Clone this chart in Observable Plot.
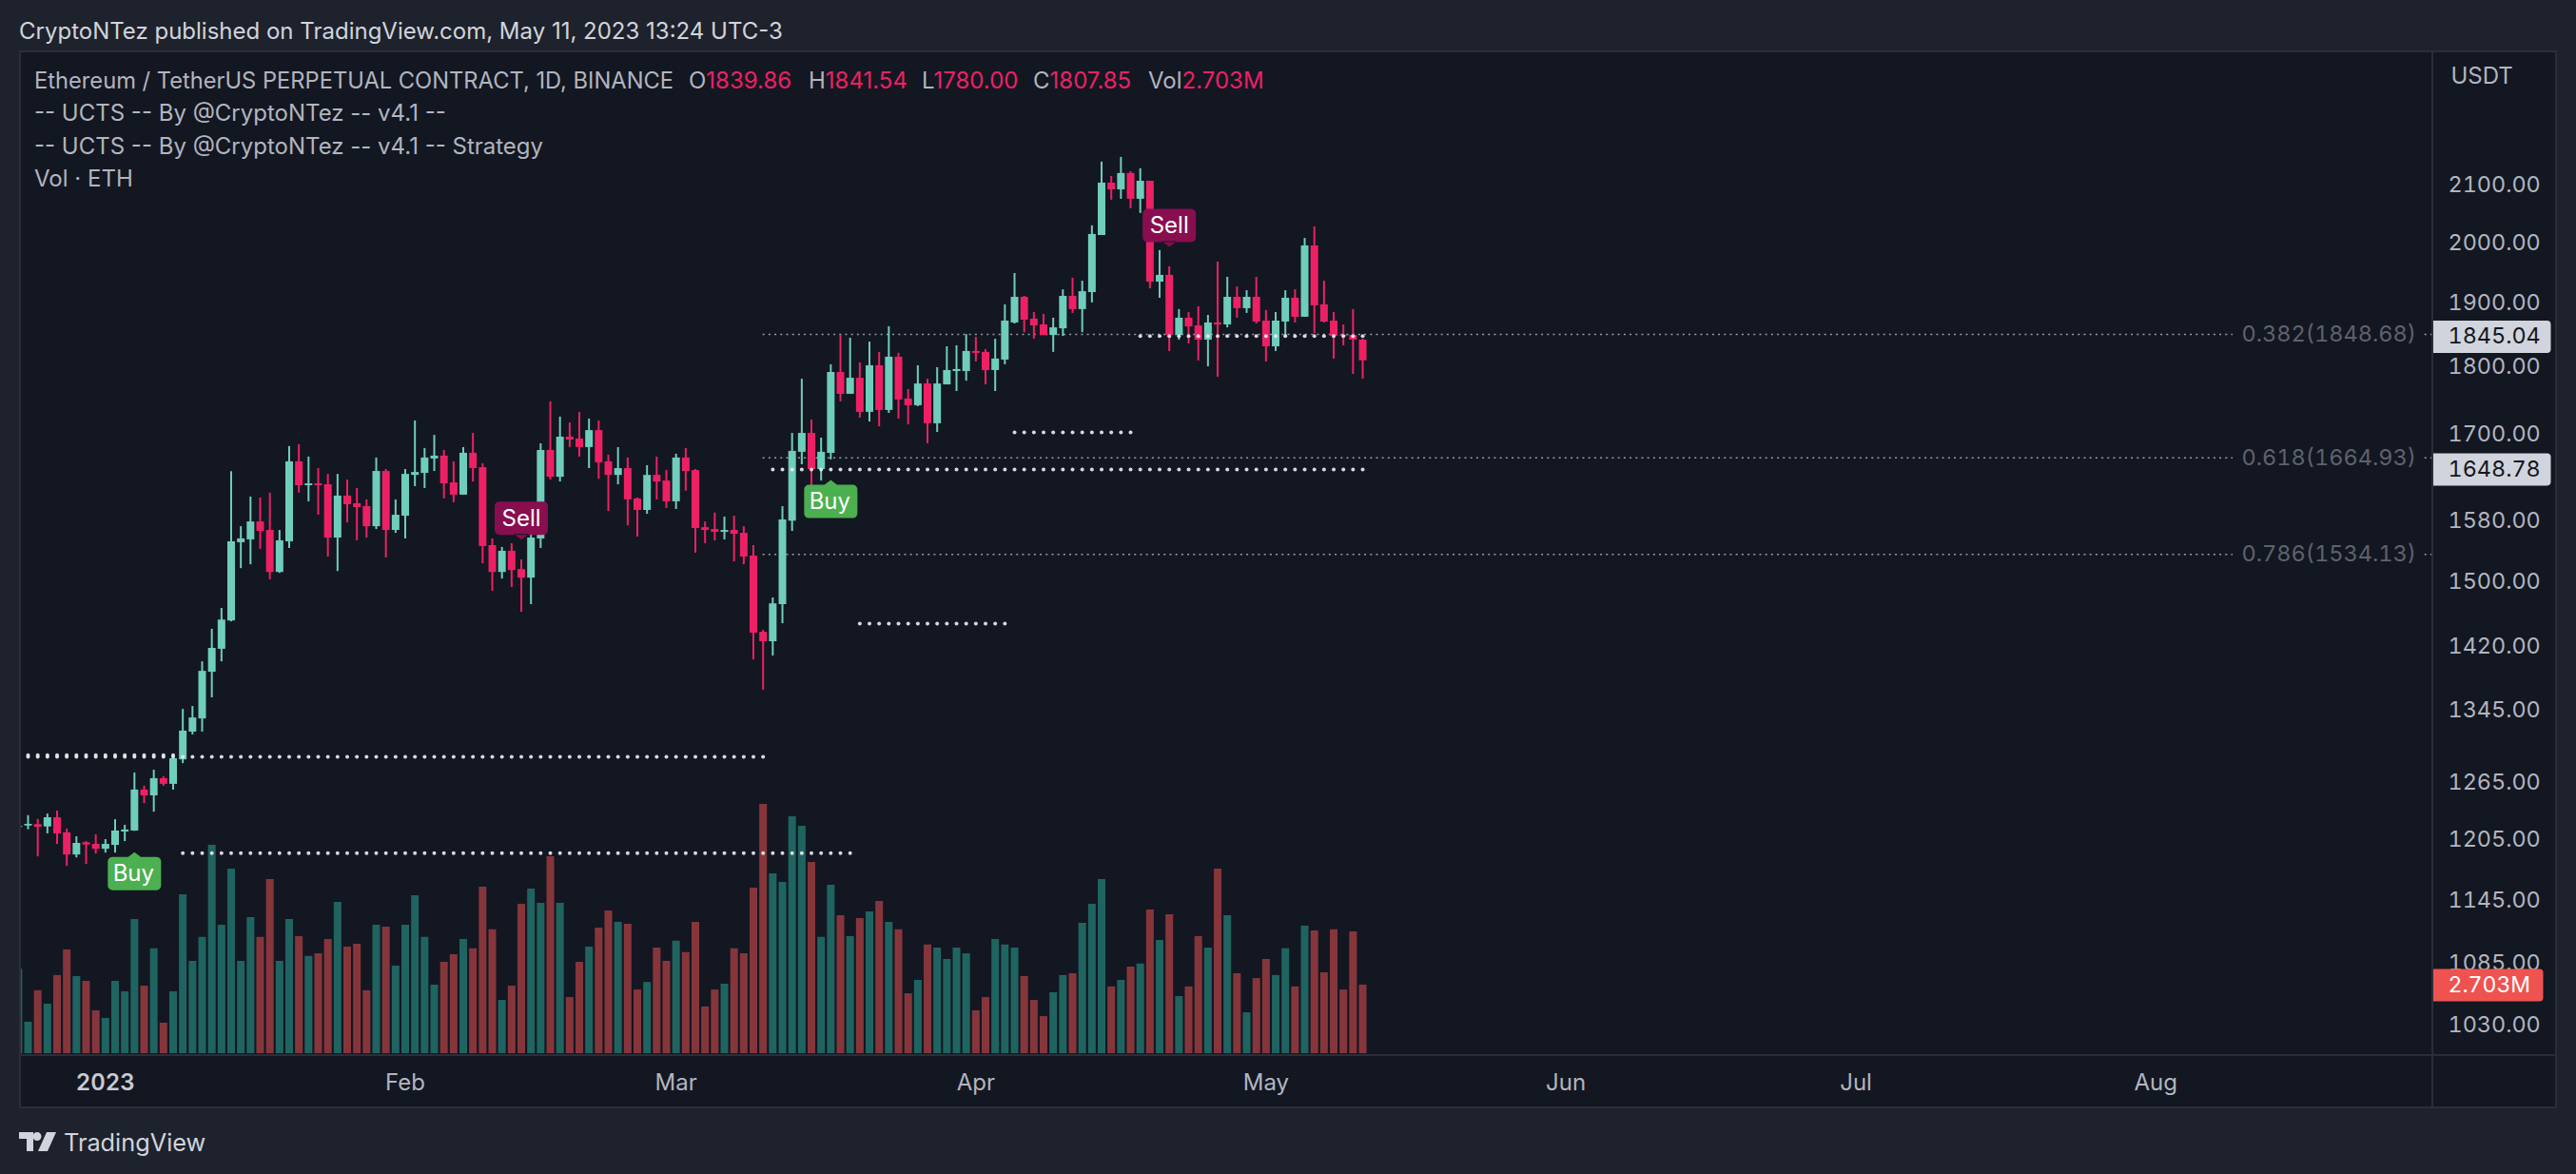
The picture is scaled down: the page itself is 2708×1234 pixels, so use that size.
<!DOCTYPE html>
<html><head><meta charset="utf-8">
<script src="https://cdn.jsdelivr.net/npm/d3@7"></script>
<script src="https://cdn.jsdelivr.net/npm/@observablehq/plot@0.6"></script>
<style>
html,body{margin:0;padding:0;background:#1e222d;width:2708px;height:1234px;overflow:hidden;font-family:Inter,sans-serif;}
#head{position:absolute;left:20px;top:17px;font-size:24px;line-height:32px;color:#d1d4dc;white-space:nowrap;}
#panel{position:absolute;left:20px;top:54px;width:2668px;height:1110px;background:#131722;overflow:hidden;}
#panel svg{position:absolute;left:0;top:0;background:transparent;font-variant-numeric:tabular-nums;}
#edge{position:absolute;left:20px;top:53px;width:2668px;height:1112px;border:2px solid #2a2e39;box-sizing:border-box;pointer-events:none;}
#axisline{position:absolute;left:2556px;top:54px;width:2px;height:1110px;background:#2a2e39;}
#paneline{position:absolute;left:20px;top:1108px;width:2668px;height:2px;background:#2a2e39;}
#legend{position:absolute;left:36px;top:68px;font-size:24px;line-height:34.3px;color:#b2b5be;white-space:nowrap;}
#legend div{position:relative;height:34.3px;}
#legend b{font-weight:400;color:#ee2064;}
#legend span{position:absolute;top:0;}
#legend i{font-style:normal;font-size:23.7px;}
#foot{position:absolute;left:20px;top:1187px;height:26px;display:flex;align-items:center;color:#d1d4dc;font-size:25.3px;}
#foot svg{margin-right:8px;}
</style></head><body>
<div id="head">CryptoNTez published on TradingView.com, May 11, 2023 13:24 UTC-3</div>
<div id="panel"></div>
<div id="axisline"></div>
<div id="paneline"></div>
<div id="edge"></div>
<div id="legend">
<div><i>Ethereum / TetherUS PERPETUAL CONTRACT, 1D, BINANCE</i><span style="left:688px">O<b>1839.86</b></span><span style="left:814px">H<b>1841.54</b></span><span style="left:933px">L<b>1780.00</b></span><span style="left:1050px">C<b>1807.85</b></span><span style="left:1171px">Vol<b>2.703M</b></span></div>
<div>-- UCTS -- By @CryptoNTez -- v4.1 --</div>
<div>-- UCTS -- By @CryptoNTez -- v4.1 -- Strategy</div>
<div>Vol · ETH</div>
</div>
<div id="foot"><svg width="39" height="20" viewBox="0 0 39 20"><path fill="#d1d4dc" d="M0 0h15v20h-7V7H0zM19 0a4.5 4.5 0 1 1 0 9a4.5 4.5 0 0 1 0-9zM29 0h10l-9 20H20z"/></svg>TradingView</div>
<script>
const firstDay = Date.UTC(2022, 11, 23);
const open = [1217,1218.5,1219.9,1217.5,1227,1211.4,1188.9,1201.3,1199.6,1194.7,1198.6,1212.3,1213.3,1256.2,1250,1268.4,1262.3,1288.8,1319.5,1334.3,1388.2,1415.5,1449.9,
1549.4,1553.1,1576.9,1565.6,1510.8,1550.6,1659.4,1626.1,1628.7,1627.4,1555.6,1611.9,1601.5,1597.6,1570.6,1645.9,1565.6,1584.6,1640.4,1643.2,1663.4,1667.5,1630,1613.2,1671.5,1651.2,1545.6,1510.8,1538.2,1514.5,1503.6,1554.4,1675.6,1637.8,1694.5,1691.7,1679.6,1703.9,1659.4,1640.4,1649.9,1608,1592.4,1640.4,1632.6,1604.1,1664.8,1647.2,1569.3,1566.8,1563.1,1565.6,1561.8,1531.9,1436.1,1424.6,1470,1578,1672.9,1699.9,1648.6,1671.5,1790.1,1757.2,1781.3,1730.5,1800.3,1733.3,1813.4,1750.2,1740.3,1772.7,1713.9,1771.3,1791.5,1791.5,1822.2,1820.8,1793,1809,1866.8,1907.9,1872.9,1863.7,1847.1,1857.6,1909.4,1888.1,1915.5,2010.6,2101.9,2089.9,2119.1,2073.3,2105.2,1932.6,1943.7,1847.1,1874.4,1862.2,1839.8,1866.8,1863.7,1907.9,1889.6,1907.9,1869.8,1829.5,1868.3,1906.4,1875.9,1992.9,1895.7,1869.8,1847.1,1847.1,1839.86];
const high = [1219,1229.2,1225.3,1230.9,1234,1215.3,1207.4,1202.5,1209.4,1204.5,1225,1219.2,1274.5,1260.3,1277.5,1270.4,1290,1345.1,1348.4,1400.5,1439.6,1465.4,1645.6,
1570.6,1610.6,1609.3,1615.8,1565.6,1681,1683.7,1666.1,1649.9,1641.8,1641.8,1633.9,1622.3,1606.7,1664.8,1648.6,1606.7,1648.6,1718,1678.3,1697.1,1675.6,1659.4,1679.6,1699.9,1656.7,1554.4,1543.2,1548.1,1527,1559.3,1685,1746,1723.5,1715,1730.5,1720.7,1718,1668.8,1679.6,1664.8,1609.3,1654,1666.1,1647.2,1670.2,1678.3,1648.6,1576.9,1588.8,1583.4,1584.6,1570.6,1545.6,1438.4,1478.5,1597.6,1699.9,1779.8,1719.3,1693.1,1801.8,1847.1,1842.7,1804.7,1836.8,1820.8,1860.9,1819.3,1764.2,1800.3,1779.8,1797.4,1829.5,1831,1848.5,1844.2,1825.1,1841.2,1895.7,1946.8,1909.4,1883.5,1880.5,1874.4,1920.1,1938.9,1934.1,2027.1,2139.7,2113.9,2148.3,2122.5,2127.6,2105.2,1985,1958,1888.1,1883.5,1892.7,1878.9,1965.9,1940.5,1924.7,1918.6,1940.5,1886.6,1883.5,1918.6,1920.1,2005.6,2025.4,1934.1,1883.5,1863.7,1888.1,1841.54];
const low = [1216,1214.6,1187,1210.4,1199.6,1177.5,1186,1179.4,1189.8,1190.8,1190.8,1202.5,1213,1241.9,1232.9,1260.3,1256.2,1284.7,1316.4,1319.5,1358.4,1400.5,1448.8,
1515.7,1520.7,1540.7,1501.2,1509.6,1541.9,1615.8,1604.1,1586,1530.7,1512,1575.6,1551.9,1555.6,1566.8,1529.5,1561.8,1554.4,1624.8,1622.3,1645.9,1608,1602.8,1613.2,1631.3,1522,1486.9,1502.4,1491.7,1460.6,1470.1,1541.9,1633.9,1631.3,1679.6,1666.1,1649.9,1635.2,1591.1,1627.4,1571.8,1556.9,1587.2,1606.7,1595,1593.7,1618.4,1535.7,1548.1,1551.9,1553.1,1524.5,1520.7,1402.8,1367.2,1407.4,1446.5,1564.3,1655.3,1626.1,1632.6,1662.1,1746,1757.2,1722.1,1716.4,1709.4,1729.1,1720.7,1712.2,1738.9,1685,1701.2,1771.3,1761.4,1776.9,1806.1,1771.3,1761.4,1801.8,1865.2,1851.5,1841.2,1847.1,1820.8,1845.6,1882,1851.5,1898.8,2010.6,2071.7,2073.3,2056.8,2048.5,1921.6,1906.4,1822.2,1839.8,1833.9,1807.6,1798.8,1782.7,1859.1,1874.4,1882,1865.2,1806.1,1822.2,1844.2,1866.8,1875.9,1850,1866.8,1810.5,1831,1787.2,1780];
const close = [1218,1220.2,1217.2,1227,1210.4,1188.9,1200.6,1199,1194.7,1199.6,1213.3,1214.3,1256.2,1250,1268.4,1262.3,1290,1320.6,1335.4,1389.3,1416.6,1451,1550.6,
1554.4,1576.9,1564.3,1510.8,1551.9,1659.4,1626.1,1628.7,1626.1,1555.6,1611.9,1600.2,1596.3,1570.6,1645.9,1565.6,1585.9,1641.8,1644.5,1664.8,1667.5,1628.7,1613.2,1671.5,1649.9,1544.4,1510.8,1538.2,1513.2,1503.6,1555.6,1675.6,1637.8,1694.5,1690.4,1679.6,1703.9,1658,1640.4,1649.9,1606.7,1592.4,1640.4,1631.3,1604.1,1664.8,1645.9,1568.1,1565.6,1563.1,1565.6,1560.6,1530.7,1435,1424.6,1471.1,1579.5,1674.2,1699.9,1648.6,1672.9,1790.1,1757.2,1781.3,1730.5,1800.3,1733.3,1813.4,1748.8,1740.3,1772.7,1713.9,1772.7,1793,1794.5,1822.2,1819.3,1793,1810.5,1869.8,1907.9,1871.3,1862.2,1847.1,1859.1,1909.4,1888.1,1917,2012.3,2101.9,2089.9,2119.1,2073.3,2105.2,1932.6,1943.7,1847.1,1874.4,1860.6,1839.8,1866.8,1863.7,1907.9,1889.6,1907.9,1868.3,1829.5,1869.8,1906.4,1875.9,1992.9,1894.2,1868.3,1845.6,1845.6,1839.8,1807.85];
const volume = [3.33,1.24,2.48,1.95,3.08,4.09,3.04,2.85,1.69,1.39,2.85,2.44,5.29,2.66,4.13,1.2,2.44,6.26,3.64,4.58,8.21,5.06,7.28,3.64,5.36,4.58,6.86,3.64,5.29,4.61,3.83,3.94,4.5,5.96,4.2,4.31,2.48,5.06,4.99,3.45,5.06,6.23,4.58,2.7,3.6,3.9,4.5,4.13,6.56,4.88,2.1,2.66,5.89,6.49,5.93,7.76,5.93,2.21,3.6,4.2,4.95,5.63,5.18,5.1,2.51,2.81,4.16,3.64,4.43,3.98,5.18,1.84,2.51,2.74,4.13,3.94,6.53,9.83,7.09,6.75,9.34,8.96,7.54,4.58,6.64,5.44,4.61,5.33,5.59,6,5.18,4.88,2.36,2.89,4.28,4.16,3.71,4.16,3.94,1.69,2.21,4.5,4.28,4.16,3.04,2.1,1.46,2.4,3.08,3.15,5.14,5.89,6.86,2.63,2.89,3.41,3.53,5.66,4.46,5.48,2.25,2.63,4.61,4.16,7.28,5.44,3.15,1.61,2.96,3.71,3.08,4.13,2.63,5.03,4.84,3.19,4.88,2.51,4.8,2.703];
const priceTicks = [2100,2000,1900,1800,1700,1580,1500,1420,1345,1265,1205,1145,1085,1030];
const monthTicks = ["2023-02-01","2023-03-01","2023-04-01","2023-05-01","2023-06-01","2023-07-01","2023-08-01"];
const monthNames = ["Feb","Mar","Apr","May","Jun","Jul","Aug"];
const fibLevels = [{name:"0.382(1848.68)",price:1848.68},{name:"0.618(1664.93)",price:1664.93},{name:"0.786(1534.13)",price:1534.13}];
// UCTS dotted levels: price, first bar, last bar
const dotLevels = [[1294,"2022-12-24","2023-01-08"],[1292,"2022-12-24","2023-03-10"],[1190.8,"2023-01-09","2023-03-19"],[1446.5,"2023-03-20","2023-04-04"],[1648.6,"2023-03-11","2023-05-11"],[1701.2,"2023-04-05","2023-04-17"],[1846,"2023-04-18","2023-05-11"]];
const signals = [{side:"Buy",date:"2023-01-04",price:1191.8},{side:"Sell",date:"2023-02-13",price:1553.5},{side:"Buy",date:"2023-03-17",price:1633.9},{side:"Sell",date:"2023-04-21",price:1991.3}];
const lastTags = [{text:"1845.04",price:1845.04},{text:"1648.78",price:1648.78}];

const GREEN="#6fcdbb", RED="#ee2064", VGREEN="#1f6460", VRED="#86363b", TICK="#b2b5be";
const day = 864e5;
const rows = open.map((o,i)=>({date:new Date(firstDay+i*day),open:o,high:high[i],low:low[i],close:close[i],volume:volume[i],up:close[i]>=o}));
const xScale = {type:"utc",domain:[new Date("2022-12-23T02:45Z"),new Date("2023-08-29T15:36Z")]};
const frame = {width:2668,height:1110,marginLeft:0,marginRight:131,marginTop:0,marginBottom:55,style:{background:"transparent",fontFamily:"Inter,sans-serif",fontSize:"24px"}};
const volY = {domain:[0,39.49],range:[1053,0],axis:null};

function box(x0,y0,x1,y1,r,c){c.moveTo(x0+r,y0);c.lineTo(x1-r,y0);c.arcTo(x1,y0,x1,y0+r,r);c.lineTo(x1,y1-r);c.arcTo(x1,y1,x1-r,y1,r);c.lineTo(x0+r,y1);c.arcTo(x0,y1,x0,y1-r,r);c.lineTo(x0,y0+r);c.arcTo(x0,y0,x0+r,y0,r);c.closePath();}
const tagBelow = {draw(c){box(-28,5,28,40,5,c);c.moveTo(-8,6);c.lineTo(0,0);c.lineTo(8,6);c.closePath();}};
const tagAbove = {draw(c){box(-28,-40,28,-5,5,c);c.moveTo(-8,-6);c.lineTo(0,0);c.lineTo(8,-6);c.closePath();}};
const priceBox = {draw(c){c.moveTo(0,-17);c.lineTo(120,-17);c.arcTo(124,-17,124,-13,4);c.lineTo(124,13);c.arcTo(124,17,120,17,4);c.lineTo(0,17);c.closePath();}};
const volBox = {draw(c){c.moveTo(0,-17);c.lineTo(112,-17);c.arcTo(116,-17,116,-13,4);c.lineTo(116,13);c.arcTo(116,17,112,17,4);c.lineTo(0,17);c.closePath();}};

const volumePlot = Plot.plot({...frame,x:{...xScale,axis:null},y:volY,marks:[
  Plot.ruleX(rows,{x:"date",y1:()=>0,y2:"volume",stroke:d=>d.up?VGREEN:VRED,strokeWidth:8})
]});

const dots = dotLevels.flatMap(([price,a,b])=>rows.filter(r=>r.date>=new Date(a)&&r.date<=new Date(b)).map(r=>({date:r.date,price})));
const fibEnd = new Date("2023-08-09"), fibResume = new Date("2023-08-28T20:00Z"), fibStart=new Date("2023-03-10"), domEnd=xScale.domain[1];
const fibSeg = {y:"price",stroke:"#9a9da5",strokeWidth:1.6,strokeDasharray:"2,4.2"};
const buys = signals.filter(d=>d.side==="Buy"), sells = signals.filter(d=>d.side==="Sell");
const sigX = d=>new Date(d.date);

const pricePlot = Plot.plot({...frame,x:xScale,y:{type:"log",domain:[1002.9,2349.4]},marks:[
  Plot.ruleY(fibLevels,{...fibSeg,x1:()=>fibStart,x2:()=>fibEnd}),
  Plot.ruleY(fibLevels,{...fibSeg,x1:()=>fibResume,x2:()=>domEnd}),
  Plot.ruleX(rows,{x:"date",y1:"low",y2:"high",stroke:d=>d.up?GREEN:RED,strokeWidth:2}),
  Plot.ruleX(rows,{x:"date",y1:"open",y2:"close",stroke:d=>d.up?GREEN:RED,strokeWidth:8}),
  Plot.dot(dots,{x:"date",y:"price",r:2,fill:"#e9eaee",fillOpacity:0.92}),
  Plot.dot(buys,{x:sigX,y:"price",r:1,symbol:tagBelow,fill:"#4caf50"}),
  Plot.dot(sells,{x:sigX,y:"price",r:1,symbol:tagAbove,fill:"#880e4f"}),
  Plot.text(buys,{x:sigX,y:"price",text:"side",dy:23,dx:-1,fill:"#fff",fontSize:24}),
  Plot.text(sells,{x:sigX,y:"price",text:"side",dy:-22,fill:"#fff",fontSize:24}),
  Plot.text(fibLevels,{y:"price",text:"name",frameAnchor:"right",textAnchor:"start",dx:-201,fill:"#5f626b",fontSize:23.5}),
  Plot.axisY({anchor:"right",ticks:priceTicks,tickFormat:d=>d.toFixed(2),tickSize:0,tickPadding:16,dy:1,color:TICK,fontSize:23.4,label:null}),
  Plot.axisX({ticks:monthTicks.map(d=>new Date(d)),tickFormat:d=>monthNames[monthTicks.indexOf(d.toISOString().slice(0,10))],tickSize:0,tickPadding:19.5,color:TICK,fontSize:24,label:null}),
  Plot.axisX({ticks:[new Date("2023-01-01")],tickFormat:()=>"2023",tickSize:0,tickPadding:19.5,color:"#c8cbd3",fontSize:24,fontWeight:600,label:null}),
  Plot.dot(lastTags,{y:"price",frameAnchor:"right",r:1,symbol:priceBox,fill:"#d1d4dc"}),
  Plot.text(lastTags,{y:"price",text:"text",frameAnchor:"right",textAnchor:"start",dx:16,fill:"#131722",fontSize:23.4}),
  Plot.text(["USDT"],{frameAnchor:"top-right",textAnchor:"start",dx:19,dy:16,fill:TICK,fontSize:24})
]});

const volTag = Plot.plot({...frame,x:{...xScale,axis:null},y:volY,marks:[
  Plot.dot([{v:2.703}],{y:"v",frameAnchor:"right",r:1,symbol:volBox,fill:"#ef5350"}),
  Plot.text([{v:2.703}],{y:"v",text:()=>"2.703M",frameAnchor:"right",textAnchor:"start",dx:16,fill:"#fff",fontSize:23})
]});
const panel = document.getElementById("panel");
panel.append(volumePlot,pricePlot,volTag);
</script>
</body></html>
